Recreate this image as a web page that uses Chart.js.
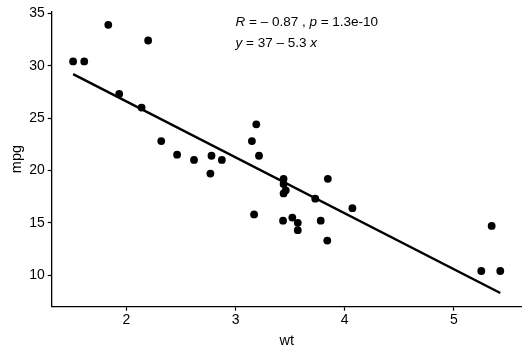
<!DOCTYPE html>
<html>
<head>
<meta charset="utf-8">
<script src="https://cdn.jsdelivr.net/npm/chart.js@4/dist/chart.umd.min.js"></script>
<style>
html,body{margin:0;padding:0;background:#fff;}
#wrap{position:relative;width:530px;height:356px;}
</style>
</head>
<body>
<div id="wrap"><canvas id="c" width="530" height="356"></canvas></div>
<script>
// mtcars: weight (1000 lbs) and miles per gallon
const wt  = [2.620,2.875,2.320,3.215,3.440,3.460,3.570,3.190,3.150,3.440,3.440,4.070,3.730,3.780,5.250,5.424,5.345,2.200,1.615,1.835,2.465,3.520,3.435,3.840,3.845,1.935,2.140,1.513,3.170,2.770,3.570,2.780];
const mpg = [21.0,21.0,22.8,21.4,18.7,18.1,14.3,24.4,22.8,19.2,17.8,16.4,17.3,15.2,10.4,10.4,14.7,32.4,30.4,33.9,21.5,15.5,15.2,13.3,19.2,27.3,26.0,30.4,15.8,19.7,15.0,21.4];
const xTicks = [2,3,4,5];
const yTicks = [10,15,20,25,30,35];
const xTitle = "wt";
const yTitle = "mpg";
const statLine1 = [["R",true],[" = \u2013 0.87 , ",false],["p",true],[" = 1.3e-10",false]];
const statLine2 = [["y",true],[" = 37 \u2013 5.3 ",false],["x",true]];

// least squares fit from the data
const n = wt.length;
const mx = wt.reduce((a,b)=>a+b,0)/n, my = mpg.reduce((a,b)=>a+b,0)/n;
let sxy=0,sxx=0;
for(let i=0;i<n;i++){sxy+=(wt[i]-mx)*(mpg[i]-my);sxx+=(wt[i]-mx)**2;}
const slope=sxy/sxx, icpt=my-slope*mx;
const xmin=Math.min(...wt), xmax=Math.max(...wt);
const fitPts=[{x:xmin,y:icpt+slope*xmin},{x:xmax,y:icpt+slope*xmax}];

const pts = wt.map((v,i)=>({x:v,y:mpg[i]}));
const FONT = "'Liberation Sans', Arial, Helvetica, sans-serif";

const statPlugin = {
  id:'stat',
  afterDatasetsDraw(chart){
    const ctx=chart.ctx, xs=chart.scales.x, top=chart.chartArea.top;
    const x0 = xs.getPixelForValue(3.0);
    const drawLine=(segs,y)=>{
      let x=x0;
      segs.forEach(([t,it])=>{
        ctx.font=(it?'italic ':'')+'13.5px '+FONT;
        ctx.fillStyle='#000';
        ctx.textBaseline='alphabetic';
        ctx.textAlign='left';
        ctx.fillText(t,x,y);
        x+=ctx.measureText(t).width;
      });
    };
    ctx.save();
    drawLine(statLine1, top+15);
    drawLine(statLine2, top+36);
    ctx.restore();
  }
};

new Chart(document.getElementById('c'),{
  type:'scatter',
  data:{datasets:[
    {type:'line',data:fitPts,borderColor:'#000',borderWidth:2.5,pointRadius:0,fill:false,order:0},
    {data:pts,backgroundColor:'#000',borderColor:'#000',pointRadius:3.9,pointBorderWidth:0,order:1}
  ]},
  options:{
    responsive:false,animation:false,
    layout:{padding:{top:10,right:8.3,left:0,bottom:0}},
    plugins:{legend:{display:false},tooltip:{enabled:false}},
    scales:{
      x:{type:'linear',min:1.317,max:5.62,
        afterBuildTicks(s){s.ticks=xTicks.map(v=>({value:v}));},
        afterFit(s){s.height=49.3;},
        grid:{display:true,drawOnChartArea:false,drawTicks:true,tickLength:4,tickColor:'#000',tickWidth:1.2},
        border:{display:true,color:'#000',width:1.3},
        ticks:{color:'#000',font:{family:FONT,size:14},padding:1,maxRotation:0,autoSkip:false},
        title:{display:true,text:xTitle,color:'#000',font:{family:FONT,size:14.5},padding:{top:0,bottom:6.6}}
      },
      y:{type:'linear',min:6.99,max:35.18,
        afterBuildTicks(s){s.ticks=yTicks.map(v=>({value:v}));},
        afterFit(s){s.width=51.7;},
        grid:{display:true,drawOnChartArea:false,drawTicks:true,tickLength:4,tickColor:'#000',tickWidth:1.2},
        border:{display:true,color:'#000',width:1.3},
        ticks:{color:'#000',font:{family:FONT,size:14},padding:3,autoSkip:false},
        title:{display:true,text:yTitle,color:'#000',font:{family:FONT,size:14.5},padding:{top:8.6,bottom:0}}
      }
    }
  },
  plugins:[statPlugin]
});
</script>
</body>
</html>
